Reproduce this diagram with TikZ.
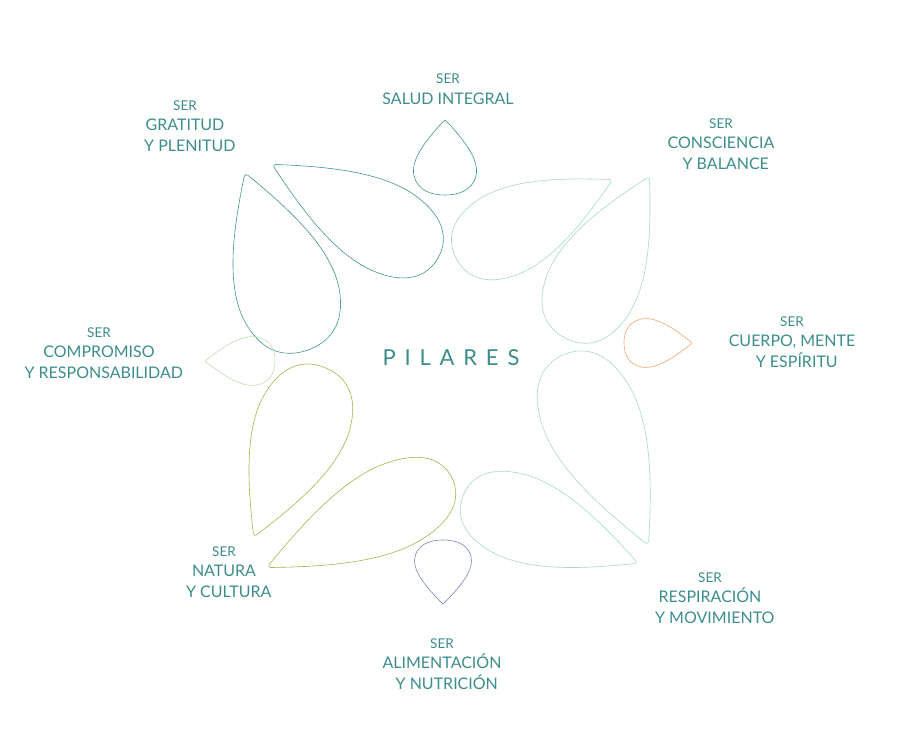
\documentclass[tikz,border=0pt]{standalone}
\usepackage{fontspec}
\setmainfont{Lato}
\definecolor{tealtxt}{HTML}{3C8D8C}
\definecolor{tealdk}{HTML}{3E9590}
\definecolor{teallt}{HTML}{A6D8CC}
\definecolor{olive}{HTML}{A9B24A}
\definecolor{orangep}{HTML}{F2A66A}
\definecolor{greenlt}{HTML}{BFDDB0}
\definecolor{bluep}{HTML}{7884BE}
\newcommand{\mypetal}[6]{%
 \pgfmathsetmacro{\pdx}{#3-#1}\pgfmathsetmacro{\pdy}{#4-#2}%
 \pgfmathsetmacro{\pang}{atan2(\pdy,\pdx)}\pgfmathsetmacro{\plen}{veclen(\pdx,\pdy)}%
 \pgfmathsetmacro{\pw}{#5}%
 \begin{scope}[shift={(#1,#2)},rotate=\pang]
 \draw[#6,line width=0.6pt] (0,0.02*\pw) .. controls (0.25*\plen,0.3*\pw) and (0.52*\plen,0.56*\pw) .. (0.74*\plen,0.5*\pw)
  .. controls (0.95*\plen,0.44*\pw) and (\plen,0.2*\pw) .. (\plen,0)
  .. controls (\plen,-0.2*\pw) and (0.95*\plen,-0.44*\pw) .. (0.74*\plen,-0.5*\pw)
  .. controls (0.52*\plen,-0.56*\pw) and (0.25*\plen,-0.3*\pw) .. (0,-0.02*\pw)
  .. controls (-0.02*\pw,-0.01*\pw) and (-0.02*\pw,0.01*\pw) .. cycle;
 \end{scope}}
\tikzset{lab/.style={text=tealtxt,align=center,font=\fontsize{16}{20.5}\selectfont}}
\newcommand{\ser}{{\fontsize{13.5}{16}\selectfont SER}}
\begin{document}
\begin{tikzpicture}[x=1pt,y=1pt]
\useasboundingbox (0,0) rectangle (900,740);
\begin{scope}[yshift=740pt,yscale=-1]
\mypetal{275}{166}{438}{258}{86}{tealdk}
\mypetal{246}{176}{308}{350}{100}{tealdk}
\mypetal{610}{181}{456}{258}{84}{teallt}
\mypetal{648}{179}{565}{338}{90}{teallt}
\mypetal{647}{542}{563}{355}{95}{teallt}
\mypetal{635}{562}{463}{496}{84}{teallt}
\mypetal{270}{566}{452}{478}{84}{olive}
\mypetal{255}{534}{326}{368}{92}{olive}
\mypetal{445}{121}{445}{195}{62}{tealdk}
\mypetal{691}{343}{624}{343}{48}{orangep}
\mypetal{206}{361}{275}{361}{48}{greenlt}
\mypetal{443}{603}{443}{540}{56}{bluep}
\node[lab] (t1) at (448,89) {\ser\\SALUD INTEGRAL};
\node[lab] (t2) at (721,144) {\ser\\CONSCIENCIA\\\hspace*{0.6em}Y BALANCE};
\node[lab] (t3) at (792,342) {\ser\\CUERPO, MENTE\\\hspace*{0.6em}Y ESPÍRITU};
\node[lab] (t4) at (710,598) {\ser\\RESPIRACIÓN\\\hspace*{0.6em}Y MOVIMIENTO};
\node[lab] (t5) at (442,664) {\ser\\ALIMENTACIÓN\\\hspace*{0.6em}Y NUTRICIÓN};
\node[lab] (t6) at (224,572) {\ser\\NATURA\\\hspace*{0.6em}Y CULTURA};
\node[lab] (t7) at (99,353) {\ser\\COMPROMISO\\\hspace*{0.6em}Y RESPONSABILIDAD};
\node[lab] (t8) at (185,126) {\ser\\GRATITUD\\\hspace*{0.6em}Y PLENITUD};
\node[text=tealtxt,font=\fontsize{22}{26}\selectfont\addfontfeature{LetterSpace=40}] (c) at (451,358) {PILARES};
\end{scope}
\end{tikzpicture}
\end{document}
